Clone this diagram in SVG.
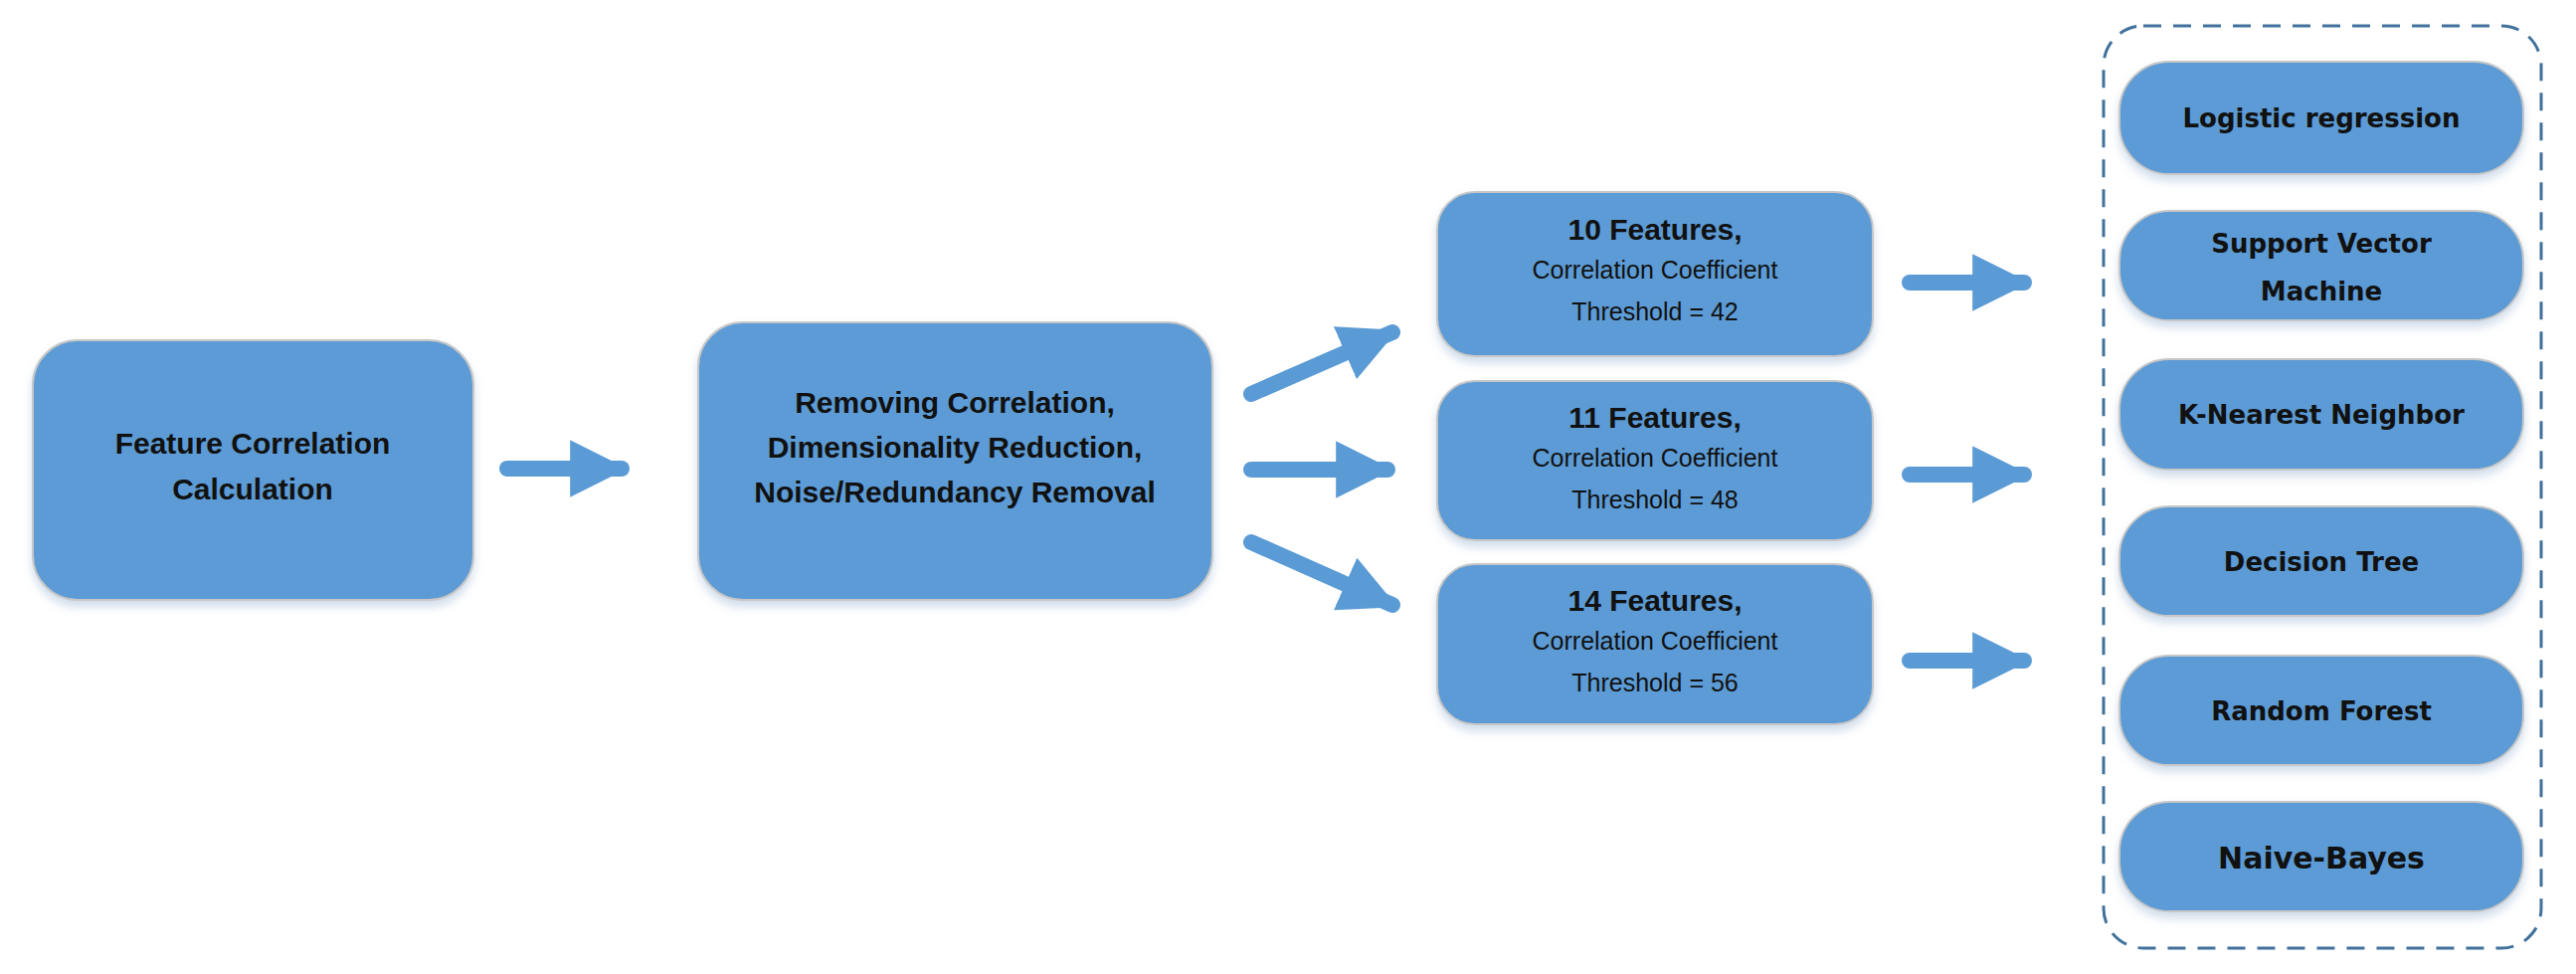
<svg xmlns="http://www.w3.org/2000/svg" width="2590" height="979" viewBox="0 0 2590 979">
<defs>
<filter id="sh" x="-10%" y="-10%" width="120%" height="130%"><feDropShadow dx="0" dy="6" stdDeviation="5" flood-color="#7a9cc6" flood-opacity="0.35"/></filter>
<marker id="ah" viewBox="0 0 10 10" refX="9" refY="5" markerWidth="3.6" markerHeight="3.6" markerUnits="strokeWidth" orient="auto"><path d="M0,0 L10,5 L0,10 z" fill="#5b9bd5"/></marker>
</defs>
<style>
.n{fill:#5b9bd5;stroke:#c7c7c7;stroke-width:2;filter:url(#sh)}
.t{font-family:"Liberation Sans",Arial,sans-serif;font-weight:bold;font-size:30px;fill:#111;text-anchor:middle}
.s{font-family:"Liberation Sans",Arial,sans-serif;font-size:25px;fill:#111;text-anchor:middle}
.m{font-family:"DejaVu Sans",Verdana,sans-serif;font-weight:bold;font-size:26px;fill:#111;text-anchor:middle}
.c{stroke:#5b9bd5;stroke-width:16;fill:none;stroke-linecap:round;marker-end:url(#ah)}
</style>
<rect x="0" y="0" width="2590" height="979" fill="#fff"/>
<rect x="2115" y="26" width="440" height="927" rx="40" fill="none" stroke="#41719c" stroke-width="3" stroke-dasharray="18,12"/>
<g id="connectors">
<line class="c" x1="510" y1="471" x2="625" y2="471"/>
<line class="c" x1="1258" y1="396" x2="1400" y2="334"/>
<line class="c" x1="1258" y1="472" x2="1395" y2="472"/>
<line class="c" x1="1258" y1="545" x2="1400" y2="608"/>
<line class="c" x1="1920" y1="284" x2="2035" y2="284"/>
<line class="c" x1="1920" y1="477" x2="2035" y2="477"/>
<line class="c" x1="1920" y1="664" x2="2035" y2="664"/>
</g>
<g id="n1"><rect class="n" x="33" y="342" width="443" height="261" rx="45"/><text class="t" x="254" y="456">Feature Correlation</text><text class="t" x="254" y="502">Calculation</text></g>
<g id="n2"><rect class="n" x="702" y="324" width="517" height="279" rx="45"/><text class="t" x="960" y="415">Removing Correlation,</text><text class="t" x="960" y="460">Dimensionality Reduction,</text><text class="t" x="960" y="505">Noise/Redundancy Removal</text></g>
<g id="f1"><rect class="n" x="1445" y="193" width="438" height="165" rx="38"/><text class="t" x="1664" y="241">10 Features,</text><text class="s" x="1664" y="280">Correlation Coefficient</text><text class="s" x="1664" y="322">Threshold = 42</text></g>
<g id="f2"><rect class="n" x="1445" y="383" width="438" height="160" rx="38"/><text class="t" x="1664" y="430">11 Features,</text><text class="s" x="1664" y="469">Correlation Coefficient</text><text class="s" x="1664" y="511">Threshold = 48</text></g>
<g id="f3"><rect class="n" x="1445" y="567" width="438" height="161" rx="38"/><text class="t" x="1664" y="614">14 Features,</text><text class="s" x="1664" y="653">Correlation Coefficient</text><text class="s" x="1664" y="695">Threshold = 56</text></g>
<g id="m1"><rect class="n" x="2131" y="62" width="406" height="113" rx="50"/><text class="m" x="2334" y="128">Logistic regression</text></g>
<g id="m2"><rect class="n" x="2131" y="212" width="406" height="110" rx="50"/><text class="m" x="2334" y="254">Support Vector</text><text class="m" x="2334" y="302">Machine</text></g>
<g id="m3"><rect class="n" x="2131" y="361" width="406" height="111" rx="50"/><text class="m" x="2334" y="426">K-Nearest Neighbor</text></g>
<g id="m4"><rect class="n" x="2131" y="509" width="406" height="110" rx="50"/><text class="m" x="2334" y="574">Decision Tree</text></g>
<g id="m5"><rect class="n" x="2131" y="659" width="406" height="110" rx="50"/><text class="m" x="2334" y="724">Random Forest</text></g>
<g id="m6"><rect class="n" x="2131" y="806" width="406" height="110" rx="50"/><text class="m" x="2334" y="873" style="font-size:30px">Naive-Bayes</text></g>
</svg>
